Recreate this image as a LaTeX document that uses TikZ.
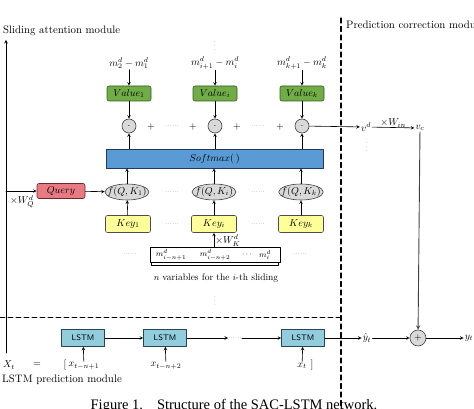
\documentclass[tikz,border=0pt]{standalone}
\usepackage{fontspec}
\newfontfamily\capfont{Liberation Serif}
\usetikzlibrary{calc}
\usetikzlibrary{shapes.geometric}

\definecolor{valgreen}{RGB}{112,173,71}
\definecolor{valborder}{RGB}{56,87,35}
\definecolor{keyyellow}{RGB}{255,255,153}
\definecolor{softblue}{RGB}{91,155,213}
\definecolor{softborder}{RGB}{31,56,100}
\definecolor{querypink}{RGB}{232,122,132}
\definecolor{queryborder}{RGB}{110,40,45}
\definecolor{lstmblue}{RGB}{146,205,222}
\definecolor{lstmborder}{RGB}{40,70,90}
\definecolor{opgray}{RGB}{217,217,217}

\begin{document}
\begin{tikzpicture}[x = 1pt, y = -1pt, line join = round, line cap = round,
  arr/.style = {-stealth, line width = .6pt},
  txt/.style = {font = \fontsize{9.5}{11}\selectfont, inner sep = 0pt},
  ttl/.style = {font = \fontsize{10.8}{12}\selectfont, inner sep = 0pt},
  lbl/.style = {font = \fontsize{10}{11}\selectfont, inner sep = 1pt},
  sml/.style = {font = \fontsize{8}{9}\selectfont, inner sep = 0pt},
  gdots/.style = {text = black!45, font = \scriptsize, inner sep = 0pt},
  box/.style = {draw, line width = .6pt, rounded corners = 2pt, inner sep = 0pt,
    minimum height = 15pt, font = \fontsize{10}{11}\selectfont},
  valbox/.style = {box, fill = valgreen, draw = valborder, minimum width = 44pt},
  keybox/.style = {box, fill = keyyellow, draw = black!70, minimum width = 45pt,
    minimum height = 17pt},
  qbox/.style = {box, fill = querypink, draw = queryborder, minimum width = 48pt},
  lstmbox/.style = {draw = lstmborder, line width = .6pt, fill = lstmblue,
    minimum width = 43pt, minimum height = 17pt, inner sep = 0pt,
    font = \sffamily\fontsize{8}{9}\selectfont},
  fnode/.style = {ellipse, draw = black!75, line width = .6pt, fill = opgray,
    minimum width = 44pt, minimum height = 16pt, inner xsep = -4pt,
    inner ysep = -2pt, font = \fontsize{10}{11}\selectfont},
  opnode/.style = {circle, draw = black!75, line width = .6pt, fill = opgray,
    minimum size = 14pt, inner sep = 0pt}]
  \clip (0, 0) rectangle (474, 409);

  % module titles and borders
  \node[ttl, anchor = west] (satt) at (3, 31) {Sliding attention module};
  \node[ttl, anchor = west] (pcor) at (346, 25) {Prediction correction module};
  \node[ttl, anchor = west] (lpred) at (2, 380) {LSTM prediction module};
  \draw[line width = 1.2pt, dash pattern = on 5pt off 3.5pt] (341, 18) -- (341, 409);
  \draw[line width = .8pt, dash pattern = on 5pt off 3pt] (0, 317) -- (341, 317);

  % values
  \node[gdots] (vtop) at (215, 43) {$\vdots$};
  \node[lbl] (d1) at (129, 63) {$m_2^d - m_1^d$};
  \node[lbl] (di) at (215, 63) {$m_{i+1}^d - m_i^d$};
  \node[lbl] (dk) at (302, 63) {$m_{k+1}^d - m_k^d$};
  \node[valbox] (v1) at (129, 93.5) {$Value_1$};
  \node[valbox] (vi) at (215, 93.5) {$Value_i$};
  \node[valbox] (vk) at (302, 93.5) {$Value_k$};
  \node[opnode] (o1) at (129, 126) {$\cdot$};
  \node[opnode] (oi) at (215, 126) {$\cdot$};
  \node[opnode] (ok) at (302, 126) {$\cdot$};
  \node[lbl] (p1) at (151, 127) {$+$};
  \node[gdots] (s1) at (172, 126) {......};
  \node[lbl] (p2) at (193, 127) {$+$};
  \node[lbl] (p3) at (237, 127) {$+$};
  \node[gdots] (s2) at (258, 126) {......};
  \node[lbl] (p4) at (280, 127) {$+$};
  \draw[arr] (d1) -- (v1);
  \draw[arr] (di) -- (vi);
  \draw[arr] (dk) -- (vk);
  \draw[arr] (v1) -- (o1);
  \draw[arr] (vi) -- (oi);
  \draw[arr] (vk) -- (ok);

  % attention scores
  \node[box, fill = softblue, draw = softborder, rounded corners = 0pt,
    minimum width = 217pt, minimum height = 19pt] (soft) at (214.5, 158.5)
    {$Softmax(\,)$};
  \node[qbox] (q) at (61, 191) {$Query$};
  \node[fnode] (f1) at (127, 192) {$f(Q, K_1)$};
  \node[fnode] (fi) at (214, 192) {$f(Q, K_i)$};
  \node[fnode] (fk) at (301, 192) {$f(Q, K_k)$};
  \node[gdots] (s3) at (172, 192) {......};
  \node[gdots] (s4) at (258, 192) {......};
  \node[keybox] (k1) at (128, 224) {$Key_1$};
  \node[keybox] (ki) at (214, 224) {$Key_i$};
  \node[keybox] (kk) at (301, 224) {$Key_k$};
  \node[gdots] (s5) at (172, 224) {......};
  \node[gdots] (s6) at (258, 224) {......};
  \draw[arr] (soft.north -| o1) -- (o1);
  \draw[arr] (soft.north -| oi) -- (oi);
  \draw[arr] (soft.north -| ok) -- (ok);
  \draw[arr] (f1) -- (f1 |- soft.south);
  \draw[arr] (fi) -- (fi |- soft.south);
  \draw[arr] (fk) -- (fk |- soft.south);
  \draw[arr] (k1) -- (f1);
  \draw[arr] (ki) -- (fi);
  \draw[arr] (kk) -- (fk);
  \draw[arr] (q) -- (f1);

  % sliding window
  \node[draw, line width = .6pt, fill = white, minimum width = 130pt,
    minimum height = 15pt, inner sep = 0pt] (mbox) at (215, 254.5) {};
  \node[sml] (m1) at (171, 255) {$m^d_{i-n+1}$};
  \node[sml] (m2) at (215, 255) {$m^d_{i-n+2}$};
  \node[sml] (m3) at (247, 255) {$\cdots$};
  \node[sml] (m4) at (265, 255) {$m^d_i$};
  \node[gdots] (s7) at (130, 254) {......};
  \node[gdots] (s8) at (300, 254) {......};
  \draw[line width = .6pt] ([xshift = 2] mbox.south west) -- ++(0, 3)
    -| ([xshift = -2] mbox.south east);
  \node[txt] (nvar) at (216, 278) {$n$ variables for the $i$-th sliding};
  \node[gdots] (vbot) at (215, 298) {$\vdots$};
  \draw[arr] (mbox.north -| ki) -- (ki) node[pos = .45, right, lbl] {$\times W_K^d$};

  % query input
  \coordinate (lbot) at (6, 353);
  \coordinate (ltop) at (6, 40);
  \coordinate (lq) at (6, 191);
  \draw[arr] (lbot) -- (ltop);
  \draw[arr] (lq) -- (q);
  \node[lbl, anchor = north west] (wq) at (9, 194) {$\times W_Q^d$};

  % correction
  \node[lbl] (vd) at (366, 127) {$v^d$};
  \node[lbl] (vc) at (420, 128) {$v_c$};
  \node[gdots] (vdots) at (367, 144) {$\vdots$};
  \draw[arr] (ok) -- (vd);
  \draw[arr] (vd) -- node[above = -1pt, lbl] {$\times W_{in}$} (vc);

  % lstm chain
  \node[lstmbox] (l1) at (83, 338) {LSTM};
  \node[lstmbox] (l2) at (165, 338) {LSTM};
  \node[lstmbox] (l3) at (303, 338) {LSTM};
  \node[gdots] (s9) at (235, 338) {......};
  \node[lbl] (yh) at (367, 338) {$\hat{y}_t$};
  \node[opnode, minimum size = 16pt] (plus) at (418, 338) {$+$};
  \node[lbl] (yt) at (469, 338) {$y_t$};
  \draw[arr] (l1) -- (l2);
  \draw[arr] (l2) -- (s9);
  \draw[arr] (s9) -- (l3);
  \draw[arr] (l3) -- (yh);
  \draw[arr] (yh) -- (plus);
  \draw[arr] (plus) -- (yt);
  \draw[-stealth, line width = .9pt, black!75] (vc) -- (plus);

  % inputs
  \node[lbl] (xt) at (9, 365) {$X_t$};
  \node[lbl] (eq) at (37, 365) {$=$};
  \node[lbl] (lb) at (65, 365) {$[$};
  \node[lbl] (x1) at (84, 366) {$x_{t-n+1}$};
  \node[lbl] (x2) at (166, 366) {$x_{t-n+2}$};
  \node[lbl] (x3) at (302, 366) {$x_t$};
  \node[lbl] (rb) at (312, 365) {$]$};
  \draw[arr] (x1) -- (l1);
  \draw[arr] (x2) -- (l2);
  \draw[arr] (x3) -- (l3);

  \node[font = \capfont\fontsize{14.5}{16}\selectfont, anchor = base, inner sep = 0pt]
    (cap) at (234, 409) {Figure 1.\hspace{14pt}Structure of the SAC-LSTM network.};
\end{tikzpicture}
\end{document}
